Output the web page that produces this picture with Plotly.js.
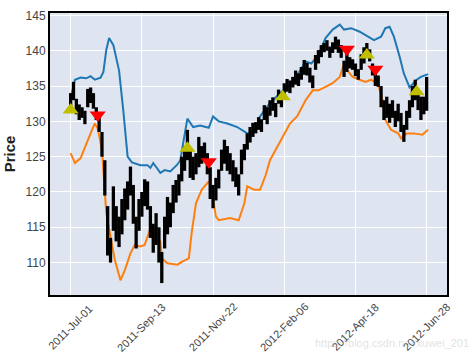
<!DOCTYPE html>
<html>
<head>
<meta charset="utf-8">
<script src="https://cdn.plot.ly/plotly-3.0.1.min.js"></script>
<style>html,body{margin:0;padding:0;background:#fff;}#chart{width:474px;height:355px;}</style>
</head>
<body>
<div id="chart"></div>
<script>
// x-axis tick positions (trading-day index) and labels
const tickIdx = [0, 50, 100, 150, 200, 250];
const tickLabels = ['2011-Jul-01', '2011-Sep-13', '2011-Nov-22', '2012-Feb-06', '2012-Apr-18', '2012-Jun-28'];

// price bars (every second trading day): low / high
const lows = [131.8,133.0,131.0,130.2,130.5,129.6,132.0,132.6,131.8,130.2,
  128.5,125.0,119.5,111.0,110.0,114.5,113.0,112.2,114.0,116.0,
  117.5,119.5,115.5,112.0,114.5,116.5,118.0,117.5,113.5,111.4,
  112.5,110.0,107.1,112.0,114.0,115.0,117.0,118.5,119.5,121.5,
  123.0,124.5,122.0,121.7,122.5,123.5,124.0,124.5,122.5,119.0,
  117.7,118.8,120.5,123.0,124.0,123.0,122.5,121.5,120.7,119.5,
  122.5,124.5,126.0,127.0,127.8,128.3,128.8,128.5,130.2,129.6,
  130.8,131.5,130.6,132.5,132.0,133.6,134.2,134.0,134.8,135.2,
  135.0,135.9,136.6,136.5,135.5,134.7,137.3,138.2,139.1,139.8,
  140.0,139.0,139.7,140.2,139.7,139.0,136.3,137.0,137.5,137.3,
  136.4,135.9,137.3,138.2,139.0,138.5,136.5,135.0,134.9,132.0,
  130.2,130.5,129.8,130.5,129.2,130.0,128.5,127.1,128.8,130.5,
  132.0,133.0,131.6,130.2,131.0,131.5];
const highs = [134.0,135.6,133.2,132.4,132.0,131.5,134.6,134.8,134.0,132.0,
  131.0,128.5,124.5,118.0,113.5,120.8,118.0,116.5,119.0,120.5,
  121.5,123.6,121.0,116.5,119.0,120.0,121.8,121.5,118.0,115.5,
  117.0,115.0,111.5,116.5,119.3,118.5,121.0,121.7,122.5,125.0,
  126.5,128.8,126.0,125.0,125.5,127.8,126.5,127.0,125.5,123.5,
  121.0,122.0,123.2,126.0,127.4,126.5,125.5,124.5,123.5,122.5,
  126.0,126.8,128.3,129.2,129.8,129.9,130.6,130.3,132.3,132.0,
  133.0,133.4,132.6,134.5,134.0,135.4,136.0,135.8,136.3,137.2,
  136.8,137.7,138.7,138.3,137.6,136.5,139.4,140.1,140.8,141.1,
  141.5,140.6,141.2,142.0,141.6,140.8,138.6,139.7,139.1,138.8,
  138.2,137.4,139.5,140.5,141.1,140.2,138.2,137.0,136.5,135.0,
  133.0,133.5,132.5,133.0,131.5,132.5,131.2,129.5,131.5,133.0,
  135.0,135.9,134.5,133.5,133.5,136.3];

// upper band
const upperX = [0,3,7,11,14,17,21,23,25,27,30,34,37,40,43,49,54,56,58,63,
  66,70,75,77,79,82,86,91,97,100,104,110,117,124,129,133,140,147,154,160,
  165,169,174,179,184,189,192,197,203,209,213,218,221,224,227,231,234,238,243,246,251];
const upper = [133.3,135.9,136.2,136.1,136.4,135.9,136.2,137.0,140.1,141.8,
  140.8,137.2,131.5,125.0,124.2,123.8,123.8,123.4,124.1,122.7,
  123.1,122.9,123.9,124.5,126.9,130.4,129.2,129.4,129.1,130.7,
  130.0,129.7,129.2,128.3,128.5,130.7,132.6,134.0,135.2,136.8,
  138.5,138.2,139.4,141.8,143.0,143.7,143.0,143.2,142.7,142.0,
  141.5,142.0,143.2,143.4,142.0,139.2,136.8,134.8,135.9,136.3,136.7];

// lower band
const lowerX = [0,3,7,11,15,17,19,22,23,25,28,31,35,38,42,45,49,52,56,59,
  63,64,68,75,78,83,85,88,92,97,99,102,104,112,118,122,124,129,133,137,
  140,145,150,154,159,165,170,174,179,184,189,192,194,198,203,207,211,216,219,221,
  225,230,232,236,241,247,251];
const lower = [125.5,124.1,124.8,126.9,128.8,129.7,129.0,126.0,122.6,117.0,
  113.7,110.4,107.5,108.9,111.3,112.5,112.3,112.5,114.8,114.2,
  113.0,110.6,109.9,109.7,110.1,110.6,114.2,118.4,120.3,121.5,
  120.3,116.5,116.0,116.3,116.0,118.4,120.8,120.3,120.3,122.4,
  124.5,126.4,128.3,129.7,130.7,133.0,134.4,134.4,134.9,135.4,
  136.3,138.2,137.3,136.3,135.9,135.6,135.9,135.2,133.0,130.2,
  128.8,128.3,127.6,128.3,128.3,128.1,128.8];

// signals
const buyX = [0, 82, 149, 208, 243];
const buyY = [131.6, 126.2, 133.5, 139.4, 134.2];
const sellX = [19, 97, 194, 214];
const sellY = [130.9, 124.3, 140.2, 137.4];

// build bar segments
const barIdx = lows.map((_, i) => i * 2);
const segX = [], segY = [];
barIdx.forEach((x, i) => { segX.push(x, x, null); segY.push(lows[i], highs[i], null); });

const FONT = 'Liberation Sans, Arial, sans-serif';
const traces = [
  {x: upperX, y: upper, type: 'scatter', mode: 'lines', line: {color: '#1f77b4', width: 2}, hoverinfo: 'skip'},
  {x: lowerX, y: lower, type: 'scatter', mode: 'lines', line: {color: '#ff7f0e', width: 2}, hoverinfo: 'skip'},
  {x: segX, y: segY, type: 'scatter', mode: 'lines', line: {color: '#000000', width: 3.3}, connectgaps: false, hoverinfo: 'skip'},
  {x: buyX, y: buyY, type: 'scatter', mode: 'markers', marker: {symbol: 'triangle-up', size: 14, color: '#bfbf00'}},
  {x: sellX, y: sellY, type: 'scatter', mode: 'markers', marker: {symbol: 'triangle-down', size: 14, color: '#ff0000'}}
];

const annotations = tickIdx.map((t, i) => ({
  x: t, y: -0.115, xref: 'x', yref: 'paper', text: tickLabels[i], textangle: -45,
  showarrow: false, xanchor: 'center', yanchor: 'middle',
  font: {family: FONT, size: 11, color: '#444'}
}));
annotations.push({
  x: 1.06, y: -0.17, xref: 'paper', yref: 'paper', text: 'https://blog.csdn.net/xuwei_201',
  showarrow: false, xanchor: 'right', yanchor: 'middle',
  font: {family: FONT, size: 11, color: 'rgba(190,190,190,0.45)'}
});

const layout = {
  width: 474, height: 355,
  margin: {l: 50, r: 27, t: 13, b: 60},
  paper_bgcolor: '#ffffff',
  plot_bgcolor: '#dfe5f0',
  showlegend: false,
  xaxis: {
    range: [-14.5, 264.3], tickmode: 'array', tickvals: tickIdx, showticklabels: false,
    showgrid: true, gridcolor: '#ffffff', gridwidth: 1, zeroline: false,
    showline: true, mirror: true, linecolor: '#000000', linewidth: 2, ticks: ''
  },
  yaxis: {
    range: [105.41, 145.35], tickmode: 'array', tickvals: [110, 115, 120, 125, 130, 135, 140, 145],
    showgrid: true, gridcolor: '#ffffff', gridwidth: 1, zeroline: false,
    showline: true, mirror: true, linecolor: '#000000', linewidth: 2, ticks: '',
    tickfont: {family: FONT, size: 12, color: '#444'},
    title: {text: 'Price', font: {family: FONT, size: 15, color: '#222', weight: 'bold'}, standoff: 6}
  },
  annotations: annotations
};

Plotly.newPlot('chart', traces, layout, {displayModeBar: false, staticPlot: true});
</script>
</body>
</html>
